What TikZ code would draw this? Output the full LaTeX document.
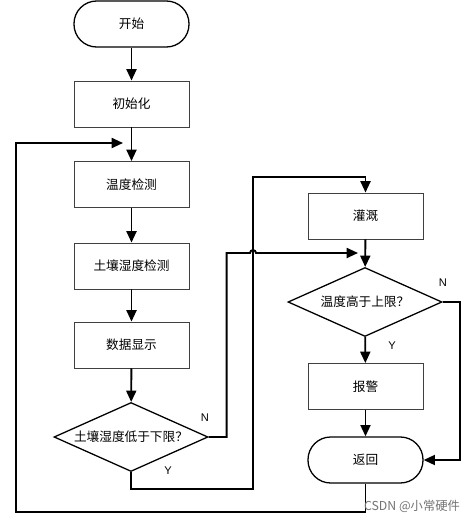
\documentclass[tikz,border=0pt]{standalone}
\usepackage{fontspec}
\setmainfont{Noto Sans CJK SC}
\newfontfamily\latinsans{Liberation Sans}
\usetikzlibrary{arrows.meta, shapes.geometric}

\begin{document}
\begin{tikzpicture}[>={Triangle[length=3.4mm, width=3mm]}, x=0.3mm, y=-0.3mm,
        flow/.style={line width=1.6pt},
        box/.style={draw=black!75, line width=0.8pt, fill=white, minimum width=34.5mm, minimum height=13.8mm, font=\fontsize{10.8}{13}\selectfont},
        term/.style={draw, line width=1.1pt, fill=white, rounded corners=6.8mm, minimum width=34.5mm, minimum height=13.8mm, font=\fontsize{10.8}{13}\selectfont},
        test/.style={diamond, draw, line width=1.1pt, fill=white, aspect=2.2, inner sep=0pt, minimum width=46.2mm, minimum height=20.7mm, font=\fontsize{10.8}{13}\selectfont},
        yn/.style={font=\latinsans\fontsize{9.5}{11}\selectfont}]
            \useasboundingbox (0, 0) rectangle (474, 520);
            \node[term] (start) at (131.5, 24) {开始};
            \node[box] (init) at (131.5, 104) {初始化};
            \node[box] (temp) at (131.5, 184.5) {温度检测};
            \node[box] (soil) at (131.5, 266) {土壤湿度检测};
            \node[box] (disp) at (131.5, 345) {数据显示};
            \node[test] (low) at (131, 437) {土壤湿度低于下限？};
            \node[box] (irrig) at (365.5, 216) {灌溉};
            \node[test] (high) at (365, 302) {温度高于上限？};
            \node[box] (alarm) at (365.5, 386.5) {报警};
            \node[term] (ret) at (365.5, 460) {返回};
            \coordinate (yLow) at (253, 489);
            \coordinate (yTop) at (253, 177);
            \coordinate (hopL) at (250, 253);
            \coordinate (nIn) at (358, 253);
            \coordinate (loopL) at (16, 512);
            \coordinate (loopEnd) at (123, 143);
            \draw[flow, ->] (start) -- (init);
            \draw[flow, ->] (init) -- (temp);
            \draw[flow, ->] (temp) -- (soil);
            \draw[flow, ->] (soil) -- (disp);
            \draw[flow, ->] (disp) -- (low);
            \draw[flow, ->] (low.south) |- (yLow) -- (yTop) -| (irrig.north);
            \draw[flow, ->] (low.east) -- ++(18, 0) |- (hopL) arc[start angle=180, end angle=360, radius=3] -- (nIn);
            \draw[flow, ->] (irrig) -- (high);
            \draw[flow, ->] (high) -- (alarm);
            \draw[flow, ->] (high.east) -- ++(17, 0) |- (ret.east);
            \draw[flow, ->] (alarm) -- (ret);
            \draw[flow, ->] (ret.south) |- (loopL) |- (loopEnd);
            \node[yn] (nLow) at (205, 418) {N};
            \node[yn] (yLowLbl) at (168, 471) {Y};
            \node[yn] (nHigh) at (443, 283) {N};
            \node[yn] (yHigh) at (392, 346) {Y};
            \node[text=black!55, font=\fontsize{10.5}{12}\selectfont] (credit) at (412, 506) {CSDN @小常硬件};
        \end{tikzpicture}
\end{document}
